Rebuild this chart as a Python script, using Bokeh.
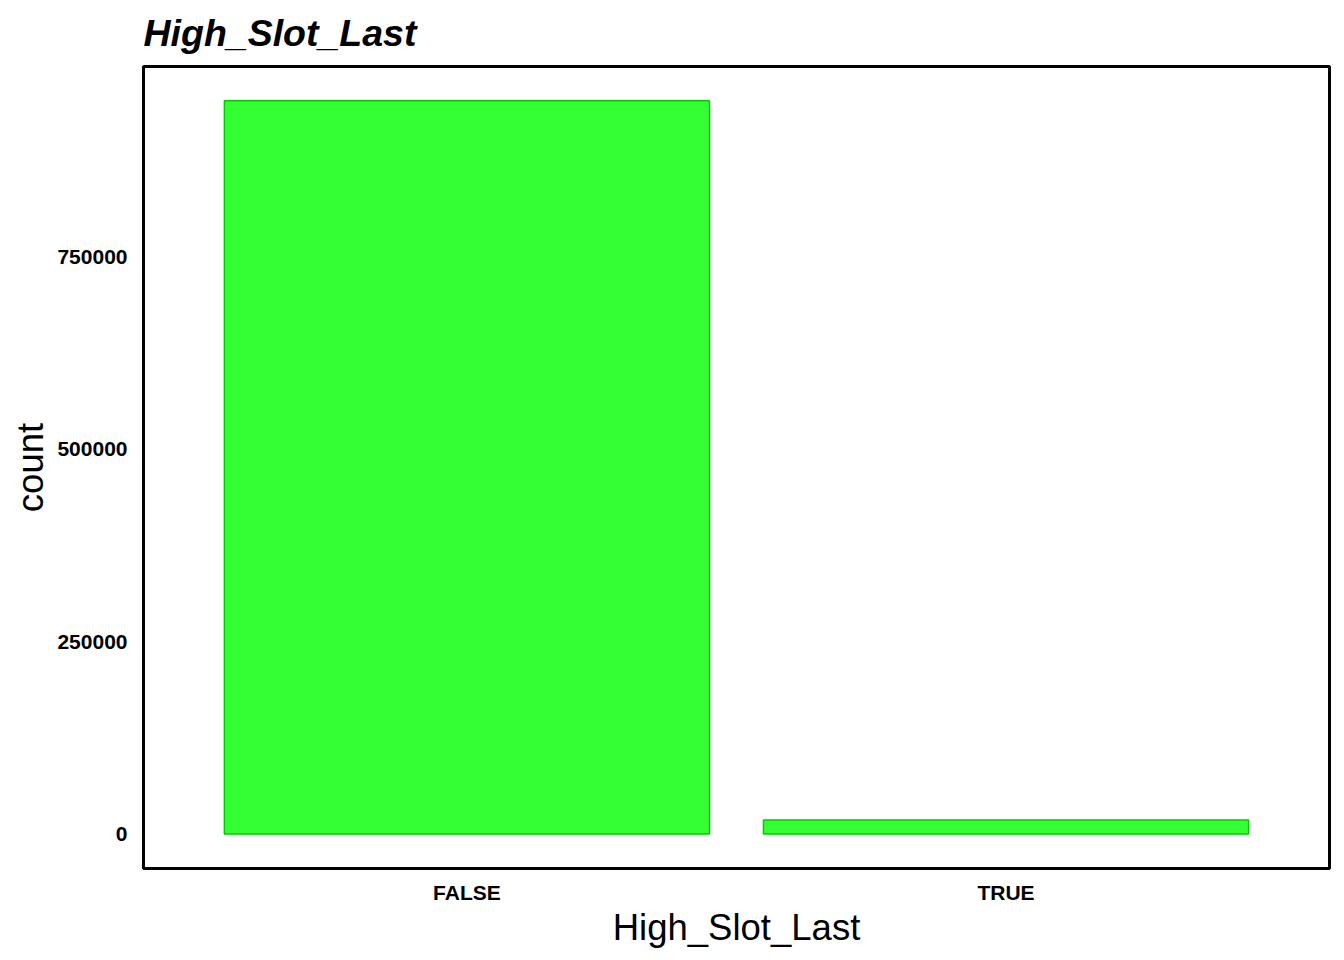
from bokeh.plotting import figure
from bokeh.models import Range1d, FixedTicker, BasicTickFormatter
from bokeh.embed import file_html
from bokeh.resources import INLINE

# Data
categories = ["FALSE", "TRUE"]
counts = [953500, 18000]
y_ticks = [0, 250000, 500000, 750000]
title_text = "High_Slot_Last"

xpos = [i + 1 for i in range(len(categories))]

p = figure(width=1344, height=960, output_backend="svg", toolbar_location=None,
           x_range=Range1d(0.4, 2.6), y_range=Range1d(-45000, 998000),
           min_border_left=143, min_border_right=15, min_border_top=66, min_border_bottom=92)

p.vbar(x=xpos, top=counts, bottom=0, width=0.9,
       fill_color="#33FF33", line_color="#00CC00", line_width=1.5)

p.title.text = title_text
p.title.text_font = "Liberation Sans"
p.title.text_font_size = "37.5px"
p.title.text_font_style = "bold italic"
p.title.text_color = "black"
p.title.align = "left"
p.title.vertical_align = "top"
p.title.offset = 0
p.title.standoff = 21

p.outline_line_color = "black"
p.outline_line_width = 3
p.xgrid.grid_line_color = None
p.ygrid.grid_line_color = None
p.background_fill_color = "white"
p.border_fill_color = "white"

for ax in (p.xaxis[0], p.yaxis[0]):
    ax.axis_line_color = None
    ax.major_tick_line_color = None
    ax.minor_tick_line_color = None
    ax.major_label_text_font = "Liberation Sans"
    ax.major_label_text_font_size = "21px"
    ax.major_label_text_font_style = "bold"
    ax.major_label_text_color = "black"
    ax.axis_label_text_font = "Liberation Sans"
    ax.axis_label_text_font_size = "36.5px"
    ax.axis_label_text_font_style = "normal"
    ax.axis_label_text_color = "black"

p.xaxis.ticker = FixedTicker(ticks=xpos)
p.xaxis.major_label_overrides = {x: c for x, c in zip(xpos, categories)}
p.xaxis.axis_label = "High_Slot_Last"
p.xaxis.major_label_standoff = 6
p.xaxis.axis_label_standoff = 0

p.yaxis.ticker = FixedTicker(ticks=y_ticks)
p.yaxis.formatter = BasicTickFormatter(use_scientific=False)
p.yaxis.axis_label = "count"
p.yaxis.major_label_standoff = 10
p.yaxis.axis_label_standoff = 3

open("out.html", "w").write(file_html(p, INLINE))
